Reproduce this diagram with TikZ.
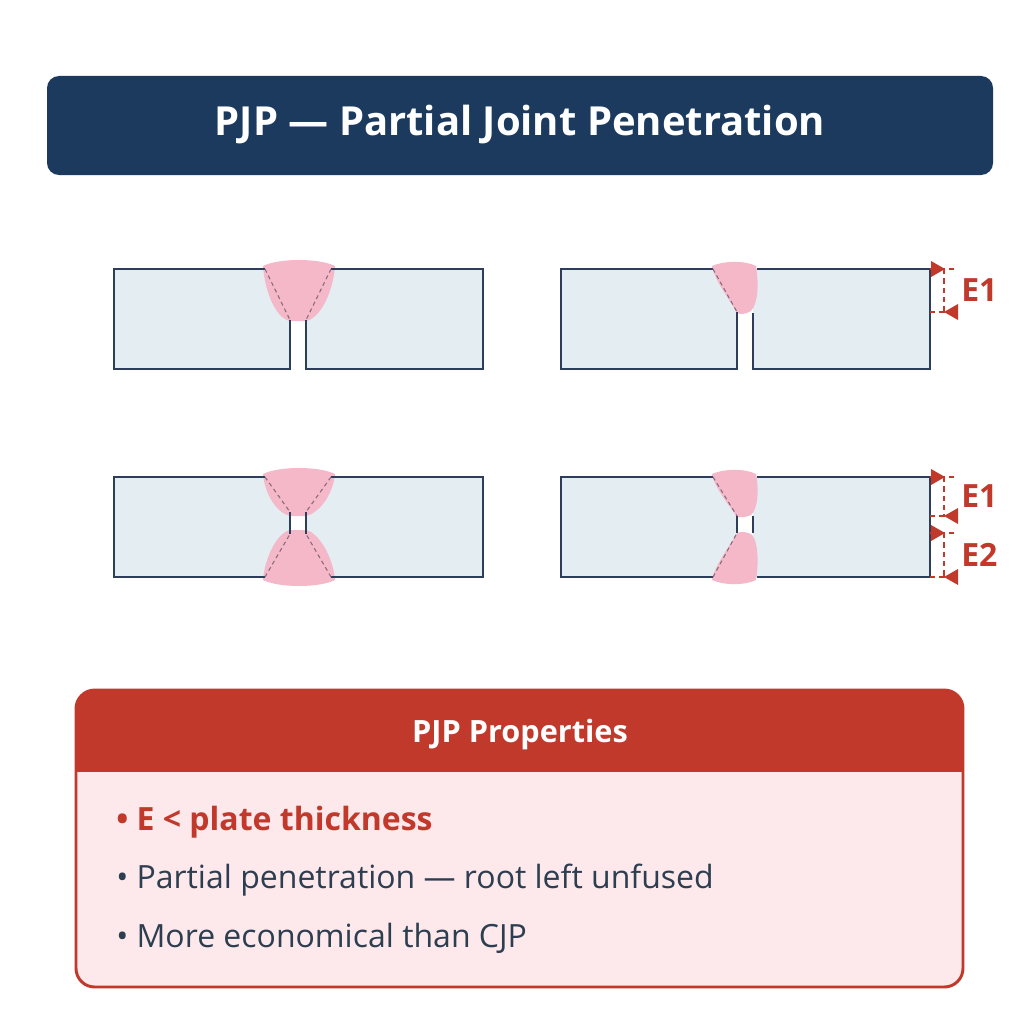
\documentclass[tikz,border=0pt]{standalone}
\usepackage{fontspec}
\setmainfont{Open Sans}
\definecolor{navy}{HTML}{1C3A5E}
\definecolor{plate}{HTML}{E3EDF2}
\definecolor{edge}{HTML}{2C3E5A}
\definecolor{weld}{HTML}{F4B8C8}
\definecolor{bev}{HTML}{8A6A7A}
\definecolor{pjpred}{HTML}{C0392B}
\definecolor{body}{HTML}{FDE8EC}
\definecolor{txt}{HTML}{2C3E50}
\tikzset{
 platefill/.style={fill=plate},
 plateline/.style={draw=edge,line width=1.2pt},
 weldfill/.style={fill=weld},
 bevline/.style={draw=bev,dashed,dash pattern=on 3pt off 2.5pt,line width=0.8pt},
 dimline/.style={draw=pjpred,dashed,dash pattern=on 4pt off 3pt,line width=1pt},
 dimlab/.style={text=pjpred,font=\bfseries\fontsize{24}{28}\selectfont,anchor=west,inner sep=0pt},
 bullet/.style={anchor=west,inner sep=0pt,text=txt,font=\fontsize{24}{28}\selectfont}
}
\newcommand{\dimmark}[4]{% y1 y2 label name
 \draw[dimline] (930,#1)--(955,#1) (930,#2)--(955,#2) (944,#1)--(944,#2);
 \fill[pjpred] (931,#1-8)--(945,#1)--(931,#1+8)--cycle;
 \fill[pjpred] (958,#2-8)--(944,#2)--(958,#2+8)--cycle;
 \node[dimlab] (#4) at (961,{(#1+#2)/2}) {#3};
}
\begin{document}
\begin{tikzpicture}[x=0.75pt,y=-0.75pt]
\useasboundingbox (0,0) rectangle (1018,1024);
\fill[white] (0,0) rectangle (1018,1024);
% title
\fill[navy,rounded corners=9pt] (47,76) rectangle (993,175);
\node[text=white,font=\bfseries\fontsize{30}{34}\selectfont] (title) at (520,125) {PJP — Partial Joint Penetration};
% top-left single V
\begin{scope}[shift={(114,269)}]
 \fill[platefill] (0,0)--(151,0)--(176,51)--(176,100)--(0,100)--cycle;
 \fill[platefill] (369,0)--(217,0)--(192,51)--(192,100)--(369,100)--cycle;
 \fill[weldfill] (149,-3) .. controls (165,-11) and (205,-11) .. (221,-3) .. controls (219,25) and (205,50) .. (192,52) -- (176,52) .. controls (163,50) and (151,25) .. (149,-3) -- cycle;
 \draw[plateline] (151,0)--(0,0)--(0,100)--(176,100)--(176,51);
 \draw[plateline] (217,0)--(369,0)--(369,100)--(192,100)--(192,51);
 \draw[bevline] (151,0)--(176,51) (217,0)--(192,51);
\end{scope}
% top-right single bevel
\begin{scope}[shift={(561,269)}]
 \fill[platefill] (0,0)--(152,0)--(176,43)--(176,100)--(0,100)--cycle;
 \fill[platefill] (192,0)--(369,0)--(369,100)--(192,100)--cycle;
 \fill[weldfill] (151,-3) .. controls (165,-9) and (185,-8) .. (195,-3) .. controls (198,15) and (197,35) .. (190,42) .. controls (184,46) and (178,45) .. (176,44) .. controls (168,30) and (153,10) .. (151,-3) -- cycle;
 \draw[plateline] (152,0)--(0,0)--(0,100)--(176,100)--(176,43);
 \draw[plateline] (196,0)--(369,0)--(369,100)--(192,100)--(192,44);
 \draw[bevline] (152,0)--(176,43);
\end{scope}
\dimmark{269}{312}{E1}{e1a}
% bottom-left double V
\begin{scope}[shift={(114,477)}]
 \fill[platefill] (0,0)--(151,0)--(176,35)--(176,57)--(151,100)--(0,100)--cycle;
 \fill[platefill] (369,0)--(217,0)--(192,35)--(192,57)--(217,100)--(369,100)--cycle;
 \fill[weldfill] (149,-3) .. controls (165,-11) and (205,-11) .. (221,-3) .. controls (219,18) and (205,36) .. (192,39) -- (176,39) .. controls (163,36) and (151,18) .. (149,-3) -- cycle;
 \fill[weldfill] (149,103) .. controls (165,111) and (205,111) .. (221,103) .. controls (219,80) and (205,56) .. (192,53) -- (176,53) .. controls (163,56) and (151,80) .. (149,103) -- cycle;
 \draw[plateline] (151,0)--(0,0)--(0,100)--(151,100);
 \draw[plateline] (217,0)--(369,0)--(369,100)--(217,100);
 \draw[plateline] (176,35)--(176,57) (192,35)--(192,57);
 \draw[bevline] (151,0)--(176,35) (217,0)--(192,35) (151,100)--(176,57) (217,100)--(192,57);
\end{scope}
% bottom-right double bevel
\begin{scope}[shift={(561,477)}]
 \fill[platefill] (0,0)--(152,0)--(176,39)--(176,56)--(152,100)--(0,100)--cycle;
 \fill[platefill] (192,0)--(369,0)--(369,100)--(192,100)--cycle;
 \fill[weldfill] (151,-3) .. controls (165,-9) and (185,-8) .. (195,-3) .. controls (198,12) and (197,32) .. (190,38) .. controls (184,41) and (178,40) .. (176,40) .. controls (168,28) and (153,10) .. (151,-3) -- cycle;
 \fill[weldfill] (151,103) .. controls (165,109) and (185,108) .. (195,103) .. controls (198,85) and (197,62) .. (190,57) .. controls (184,54) and (178,55) .. (176,56) .. controls (168,70) and (153,90) .. (151,103) -- cycle;
 \draw[plateline] (152,0)--(0,0)--(0,100)--(152,100);
 \draw[plateline] (196,0)--(369,0)--(369,100)--(196,100);
 \draw[plateline] (176,39)--(176,56) (192,39)--(192,56);
 \draw[bevline] (152,0)--(176,39) (152,100)--(176,56);
\end{scope}
\dimmark{477}{516}{E1}{e1b}
\dimmark{533}{577}{E2}{e2}
% properties box
\fill[body,rounded corners=14pt] (76,690) rectangle (963,987);
\fill[pjpred,rounded corners=14pt] (76,690) rectangle (963,740);
\fill[pjpred] (76,720) rectangle (963,772);
\draw[pjpred,line width=2.2pt,rounded corners=14pt] (76,690) rectangle (963,987);
\node[text=white,font=\bfseries\fontsize{23}{27}\selectfont] (head) at (520,735) {PJP Properties};
\node[bullet,text=pjpred,font=\bfseries\fontsize{24}{28}\selectfont] (b1) at (116,822) {• E < plate thickness};
\node[bullet] (b2) at (116,880) {• Partial penetration — root left unfused};
\node[bullet] (b3) at (116,938) {• More economical than CJP};
\end{tikzpicture}
\end{document}
